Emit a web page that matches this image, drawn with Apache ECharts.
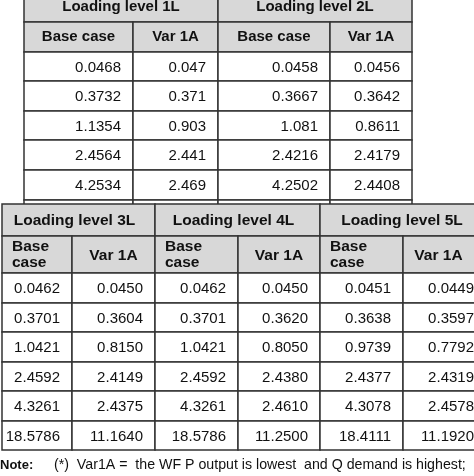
<!DOCTYPE html><html><head><meta charset="utf-8">
<script src="https://cdn.jsdelivr.net/npm/echarts@6/dist/echarts.min.js"></script>
<style>html,body{margin:0;background:#fff}#c{width:474px;height:476px}</style></head><body><div id="c"></div>
<script>
const topLevels = ['Loading level 1L','Loading level 2L'];
const botLevels = ['Loading level 3L','Loading level 4L','Loading level 5L'];
const subHeads = ['Base case','Var 1A'];
const topRows = [
 ['0.0468','0.047','0.0458','0.0456'],
 ['0.3732','0.371','0.3667','0.3642'],
 ['1.1354','0.903','1.081','0.8611'],
 ['2.4564','2.441','2.4216','2.4179'],
 ['4.2534','2.469','4.2502','2.4408']
];
const botRows = [
 ['0.0462','0.0450','0.0462','0.0450','0.0451','0.0449'],
 ['0.3701','0.3604','0.3701','0.3620','0.3638','0.3597'],
 ['1.0421','0.8150','1.0421','0.8050','0.9739','0.7792'],
 ['2.4592','2.4149','2.4592','2.4380','2.4377','2.4319'],
 ['4.3261','2.4375','4.3261','2.4610','4.3078','2.4578'],
 ['18.5786','11.1640','18.5786','11.2500','18.4111','11.1920']
];
const noteLabel = 'Note:';
const noteText = '(*)  Var1A =  the WF P output is lowest  and Q demand is highest;';

const F = '"Liberation Sans", Arial, Helvetica, sans-serif';
const BG = '#d8d8d8', LN = '#333';
const els = [];
function rect(x0,y0,x1,y1,fill){els.push({type:'rect',shape:{x:x0,y:y0,width:x1-x0,height:y1-y0},style:{fill:fill,stroke:LN,lineWidth:1.5}});}
function txt(s,x,y,align,bold,size){els.push({type:'text',style:{text:s,x:x,y:y,align:align,verticalAlign:'middle',font:(bold?'bold ':'')+(size||15)+'px '+F,fill:'#111'}});}

// top table
const tc=[24,133,218,330,412], tr=[-8,22,52,81,111,140,170,200,212];
topLevels.forEach((t,i)=>{const a=tc[i*2],b=tc[i*2+2];rect(a,tr[0],b,tr[1],BG);txt(t,(a+b)/2,tr[0]+15,'center',true);});
for(let j=0;j<4;j++){const a=tc[j],b=tc[j+1];rect(a,tr[1],b,tr[2],BG);txt(subHeads[j%2],(a+b)/2,(tr[1]+tr[2])/2,'center',true);}
for(let r=0;r<topRows.length+1;r++)for(let j=0;j<4;j++){const a=tc[j],b=tc[j+1];rect(a,tr[r+2],b,tr[r+3],'#fff');if(topRows[r])txt(topRows[r][j],b-12,(tr[r+2]+tr[r+3])/2+1,'right',false);}

// bottom table
const bc=[2,72,155,238,320,403,490], br=[204,236,273,303,332,362,391,421,450];
botLevels.forEach((t,i)=>{const a=bc[i*2],b=bc[i*2+2];rect(a,br[0],b,br[1],BG);txt(t,i==2?402:(a+b)/2-4,(br[0]+br[1])/2+1,'center',true,15.5);});
for(let j=0;j<6;j++){const a=bc[j],b=bc[j+1];rect(a,br[1],b,br[2],BG);
 if(j%2==0){txt('Base',a+10,br[1]+11,'left',true,15.5);txt('case',a+10,br[1]+27,'left',true,15.5);}
 else txt(subHeads[1],(a+b)/2-(j==5?8:0),(br[1]+br[2])/2+1,'center',true,15.5);}
for(let r=0;r<botRows.length;r++)for(let j=0;j<6;j++){const a=bc[j],b=bc[j+1];rect(a,br[r+2],b,br[r+3],'#fff');txt(botRows[r][j],Math.min(b,474)-(j==5?0:12),(br[r+2]+br[r+3])/2+1,'right',false);}

els.push({type:'text',style:{text:noteLabel,x:0,y:465,verticalAlign:'middle',font:'bold 13px '+F,fill:'#111'}});
els.push({type:'text',style:{text:noteText,x:54,y:465,verticalAlign:'middle',font:'14.2px '+F,fill:'#111'}});

const chart = echarts.init(document.getElementById('c'),null,{renderer:'canvas'});
chart.setOption({animation:false,graphic:{elements:els}});
</script></body></html>
